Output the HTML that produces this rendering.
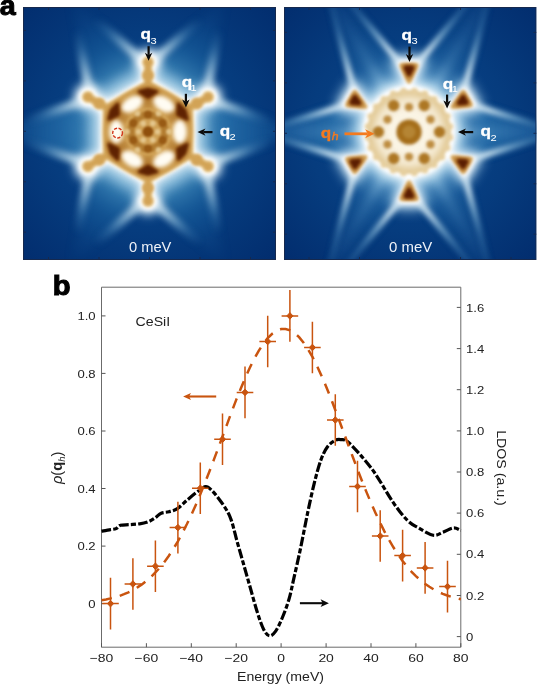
<!DOCTYPE html>
<html><head><meta charset="utf-8"><title>figure</title>
<style>html,body{margin:0;padding:0;background:#fff;}svg{display:block;font-family:"Liberation Sans",sans-serif;}</style>
</head><body>
<svg width="537" height="685" viewBox="0 0 537 685">
<rect width="537" height="685" fill="#fff"/>
<defs><filter id="b05" x="-30%" y="-30%" width="160%" height="160%" color-interpolation-filters="sRGB"><feGaussianBlur stdDeviation="0.5"/></filter><filter id="b08" x="-30%" y="-30%" width="160%" height="160%" color-interpolation-filters="sRGB"><feGaussianBlur stdDeviation="0.8"/></filter><filter id="b1" x="-30%" y="-30%" width="160%" height="160%" color-interpolation-filters="sRGB"><feGaussianBlur stdDeviation="1.0"/></filter><filter id="b13" x="-30%" y="-30%" width="160%" height="160%" color-interpolation-filters="sRGB"><feGaussianBlur stdDeviation="1.3"/></filter><filter id="b15" x="-30%" y="-30%" width="160%" height="160%" color-interpolation-filters="sRGB"><feGaussianBlur stdDeviation="1.5"/></filter><filter id="b2" x="-30%" y="-30%" width="160%" height="160%" color-interpolation-filters="sRGB"><feGaussianBlur stdDeviation="2.0"/></filter><filter id="b25" x="-30%" y="-30%" width="160%" height="160%" color-interpolation-filters="sRGB"><feGaussianBlur stdDeviation="2.5"/></filter><filter id="b3" x="-30%" y="-30%" width="160%" height="160%" color-interpolation-filters="sRGB"><feGaussianBlur stdDeviation="3.0"/></filter><filter id="b4" x="-30%" y="-30%" width="160%" height="160%" color-interpolation-filters="sRGB"><feGaussianBlur stdDeviation="4.0"/></filter><filter id="b5" x="-30%" y="-30%" width="160%" height="160%" color-interpolation-filters="sRGB"><feGaussianBlur stdDeviation="5.0"/></filter><filter id="b6" x="-30%" y="-30%" width="160%" height="160%" color-interpolation-filters="sRGB"><feGaussianBlur stdDeviation="6.0"/></filter><filter id="b8" x="-30%" y="-30%" width="160%" height="160%" color-interpolation-filters="sRGB"><feGaussianBlur stdDeviation="8.0"/></filter><clipPath id="cl"><rect x="23" y="7" width="253" height="253"/></clipPath><clipPath id="cr"><rect x="284" y="7" width="252.5" height="253"/></clipPath><radialGradient id="bgL" gradientUnits="userSpaceOnUse" cx="148.0" cy="131.7" r="180"><stop offset="0.000" stop-color="#0a488c" stop-opacity="1"/><stop offset="0.556" stop-color="#063c7e" stop-opacity="1"/><stop offset="1.000" stop-color="#022d6e" stop-opacity="1"/></radialGradient><radialGradient id="stL" gradientUnits="userSpaceOnUse" cx="148.0" cy="131.7" r="160"><stop offset="0.287" stop-color="#8cc0de" stop-opacity="1"/><stop offset="0.425" stop-color="#3a84b6" stop-opacity="0.8"/><stop offset="0.575" stop-color="#1f6aa6" stop-opacity="0.5"/><stop offset="0.781" stop-color="#1a62a2" stop-opacity="0.16"/><stop offset="0.981" stop-color="#1a60a0" stop-opacity="0"/></radialGradient><radialGradient id="skL" gradientUnits="userSpaceOnUse" cx="148.0" cy="131.7" r="160"><stop offset="0.388" stop-color="#eef6fa" stop-opacity="1"/><stop offset="0.500" stop-color="#c3deec" stop-opacity="0.9"/><stop offset="0.594" stop-color="#8fbedb" stop-opacity="0.62"/><stop offset="0.675" stop-color="#5f9dc8" stop-opacity="0.3"/><stop offset="0.775" stop-color="#4a90c0" stop-opacity="0"/></radialGradient><radialGradient id="hbL" gradientUnits="userSpaceOnUse" cx="148.0" cy="131.7" r="160"><stop offset="0.312" stop-color="#3a84bc" stop-opacity="0.0"/><stop offset="0.469" stop-color="#2f7ab5" stop-opacity="0.35"/><stop offset="0.625" stop-color="#2a72ae" stop-opacity="0.4"/><stop offset="0.781" stop-color="#2068a6" stop-opacity="0.25"/><stop offset="0.969" stop-color="#1a60a0" stop-opacity="0.0"/></radialGradient><radialGradient id="bgR" gradientUnits="userSpaceOnUse" cx="409.0" cy="132.0" r="180"><stop offset="0.000" stop-color="#0a488c" stop-opacity="1"/><stop offset="0.556" stop-color="#063c7e" stop-opacity="1"/><stop offset="1.000" stop-color="#022d6e" stop-opacity="1"/></radialGradient><radialGradient id="stR" gradientUnits="userSpaceOnUse" cx="409.0" cy="132.0" r="220"><stop offset="0.200" stop-color="#9fcde6" stop-opacity="1"/><stop offset="0.273" stop-color="#5a9ccb" stop-opacity="0.68"/><stop offset="0.364" stop-color="#2f7ab5" stop-opacity="0.42"/><stop offset="0.500" stop-color="#1f68a8" stop-opacity="0.25"/><stop offset="0.682" stop-color="#1a60a0" stop-opacity="0.12"/><stop offset="0.932" stop-color="#1a60a0" stop-opacity="0.02"/></radialGradient><radialGradient id="skR" gradientUnits="userSpaceOnUse" cx="409.0" cy="132.0" r="220"><stop offset="0.300" stop-color="#f4fafd" stop-opacity="1"/><stop offset="0.382" stop-color="#cfe6f2" stop-opacity="0.9"/><stop offset="0.477" stop-color="#96c5e0" stop-opacity="0.6"/><stop offset="0.573" stop-color="#64a2cc" stop-opacity="0.32"/><stop offset="0.682" stop-color="#4f94c4" stop-opacity="0.15"/><stop offset="0.886" stop-color="#4a90c0" stop-opacity="0.05"/></radialGradient><radialGradient id="axR" gradientUnits="userSpaceOnUse" cx="409.0" cy="132.0" r="220"><stop offset="0.200" stop-color="#b5d9ee" stop-opacity="0.6"/><stop offset="0.364" stop-color="#7db6da" stop-opacity="0.25"/><stop offset="0.591" stop-color="#5a9bd0" stop-opacity="0.1"/><stop offset="0.818" stop-color="#4a90c8" stop-opacity="0.0"/></radialGradient><radialGradient id="hbR" gradientUnits="userSpaceOnUse" cx="409.0" cy="132.0" r="220"><stop offset="0.227" stop-color="#3a84bc" stop-opacity="0.0"/><stop offset="0.341" stop-color="#2f7ab5" stop-opacity="0.5"/><stop offset="0.477" stop-color="#2a72ae" stop-opacity="0.5"/><stop offset="0.614" stop-color="#2068a6" stop-opacity="0.4"/><stop offset="0.795" stop-color="#1a60a0" stop-opacity="0.12"/></radialGradient><radialGradient id="dR" gradientUnits="userSpaceOnUse" cx="409.0" cy="132.0" r="45"><stop offset="0.000" stop-color="#f5ecd6" stop-opacity="1"/><stop offset="0.444" stop-color="#f9f2e2" stop-opacity="1"/><stop offset="0.711" stop-color="#f3e7cc" stop-opacity="1"/><stop offset="0.878" stop-color="#e2ca98" stop-opacity="1"/><stop offset="1.000" stop-color="#efdfbd" stop-opacity="1"/></radialGradient></defs><g clip-path="url(#cl)"><rect x="23" y="7" width="253" height="253" fill="url(#bgL)"/><polygon points="305.0,131.7 203.4,99.7 226.5,-4.3 148.0,67.7 69.5,-4.3 92.6,99.7 -9.0,131.7 92.6,163.7 69.5,267.7 148.0,195.7 226.5,267.7 203.4,163.7" fill="url(#stL)" filter="url(#b5)"/><g fill="url(#hbL)" filter="url(#b4)"><polygon points="203.4,163.7 305.0,131.7 203.4,99.7"/><polygon points="92.6,99.7 -9.0,131.7 92.6,163.7"/></g><path d="M205.2,98.7L305.0,131.7M205.2,98.7L226.5,-4.3M148.0,65.7L226.5,-4.3M148.0,65.7L69.5,-4.3M90.8,98.7L69.5,-4.3M90.8,98.7L-9.0,131.7M90.8,164.7L-9.0,131.7M90.8,164.7L69.5,267.7M148.0,197.7L69.5,267.7M148.0,197.7L226.5,267.7M205.2,164.7L226.5,267.7M205.2,164.7L305.0,131.7" stroke="url(#skL)" stroke-width="8.5" fill="none" filter="url(#b3)"/><g filter="url(#b6)" opacity="0.85" fill="#9cc8e2" stroke="#9cc8e2" stroke-width="36" stroke-linejoin="round" stroke-linecap="round"><polygon points="188.3,108.4 148.0,85.2 107.7,108.4 107.7,154.9 148.0,178.2 188.3,155.0" stroke-linejoin="round"/><path d="M187.0,109.2L207.8,97.2M148.0,86.7L148.0,62.7M109.0,109.2L88.2,97.2M109.0,154.2L88.2,166.2M148.0,176.7L148.0,200.7M187.0,154.2L207.8,166.2" stroke-width="28"/></g><g filter="url(#b4)" opacity="0.9" fill="#fff" stroke="#fff" stroke-width="17" stroke-linejoin="round" stroke-linecap="round"><polygon points="188.3,108.4 148.0,85.2 107.7,108.4 107.7,154.9 148.0,178.2 188.3,155.0" stroke-linejoin="round"/><path d="M187.0,109.2L207.8,97.2M148.0,86.7L148.0,62.7M109.0,109.2L88.2,97.2M109.0,154.2L88.2,166.2M148.0,176.7L148.0,200.7M187.0,154.2L207.8,166.2" stroke-width="17"/><circle cx="208.1" cy="97.0" r="5.2" stroke-width="13"/><circle cx="148.0" cy="62.3" r="5.2" stroke-width="13"/><circle cx="87.9" cy="97.0" r="5.2" stroke-width="13"/><circle cx="87.9" cy="166.4" r="5.2" stroke-width="13"/><circle cx="148.0" cy="201.1" r="5.2" stroke-width="13"/><circle cx="208.1" cy="166.4" r="5.2" stroke-width="13"/></g><g filter="url(#b2)" fill="#fff" stroke="#fff" stroke-width="13" stroke-linejoin="round" stroke-linecap="round"><polygon points="188.3,108.4 148.0,85.2 107.7,108.4 107.7,154.9 148.0,178.2 188.3,155.0" stroke-linejoin="round"/><path d="M187.0,109.2L207.8,97.2M148.0,86.7L148.0,62.7M109.0,109.2L88.2,97.2M109.0,154.2L88.2,166.2M148.0,176.7L148.0,200.7M187.0,154.2L207.8,166.2" stroke-width="12"/><circle cx="208.1" cy="97.0" r="5.2" stroke-width="7"/><circle cx="148.0" cy="62.3" r="5.2" stroke-width="7"/><circle cx="87.9" cy="97.0" r="5.2" stroke-width="7"/><circle cx="87.9" cy="166.4" r="5.2" stroke-width="7"/><circle cx="148.0" cy="201.1" r="5.2" stroke-width="7"/><circle cx="208.1" cy="166.4" r="5.2" stroke-width="7"/></g><g filter="url(#b15)" fill="#f3e3bf" stroke="#f3e3bf" stroke-width="11" stroke-linejoin="round" stroke-linecap="round"><polygon points="188.3,108.4 148.0,85.2 107.7,108.4 107.7,154.9 148.0,178.2 188.3,155.0" stroke-linejoin="round"/><path d="M187.0,109.2L207.8,97.2M148.0,86.7L148.0,62.7M109.0,109.2L88.2,97.2M109.0,154.2L88.2,166.2M148.0,176.7L148.0,200.7M187.0,154.2L207.8,166.2" stroke-width="9"/><circle cx="208.1" cy="97.0" r="5.2" stroke-width="2.5"/><circle cx="148.0" cy="62.3" r="5.2" stroke-width="2.5"/><circle cx="87.9" cy="97.0" r="5.2" stroke-width="2.5"/><circle cx="87.9" cy="166.4" r="5.2" stroke-width="2.5"/><circle cx="148.0" cy="201.1" r="5.2" stroke-width="2.5"/><circle cx="208.1" cy="166.4" r="5.2" stroke-width="2.5"/></g><g filter="url(#b15)" fill="#d2a356" stroke="#d2a356" stroke-width="8" stroke-linejoin="round" stroke-linecap="round"><polygon points="188.3,108.4 148.0,85.2 107.7,108.4 107.7,154.9 148.0,178.2 188.3,155.0" stroke-linejoin="round"/><path d="M187.0,109.2L207.8,97.2M148.0,86.7L148.0,62.7M109.0,109.2L88.2,97.2M109.0,154.2L88.2,166.2M148.0,176.7L148.0,200.7M187.0,154.2L207.8,166.2" stroke-width="6.6"/><circle cx="208.1" cy="97.0" r="5.0" stroke="none"/><circle cx="148.0" cy="62.3" r="5.0" stroke="none"/><circle cx="87.9" cy="97.0" r="5.0" stroke="none"/><circle cx="87.9" cy="166.4" r="5.0" stroke="none"/><circle cx="148.0" cy="201.1" r="5.0" stroke="none"/><circle cx="208.1" cy="166.4" r="5.0" stroke="none"/><circle cx="196.8" cy="103.5" r="6.1" stroke="none"/><circle cx="148.0" cy="75.4" r="6.1" stroke="none"/><circle cx="99.2" cy="103.5" r="6.1" stroke="none"/><circle cx="99.2" cy="159.8" r="6.1" stroke="none"/><circle cx="148.0" cy="188.0" r="6.1" stroke="none"/><circle cx="196.8" cy="159.9" r="6.1" stroke="none"/></g><g filter="url(#b25)"><circle cx="148.0" cy="131.7" r="40" fill="none" stroke="#cb9a4c" stroke-width="7"/><circle cx="174.8" cy="116.2" r="7.5" fill="#b9843a"/><ellipse cx="181.3" cy="112.4" rx="6" ry="12" transform="rotate(-30 181.3 112.4)" fill="#a9691f"/><circle cx="148.0" cy="100.7" r="7.5" fill="#b9843a"/><ellipse cx="148.0" cy="93.2" rx="6" ry="12" transform="rotate(-90 148.0 93.2)" fill="#a9691f"/><circle cx="121.2" cy="116.2" r="7.5" fill="#b9843a"/><ellipse cx="114.7" cy="112.4" rx="6" ry="12" transform="rotate(-150 114.7 112.4)" fill="#a9691f"/><circle cx="121.2" cy="147.2" r="7.5" fill="#b9843a"/><ellipse cx="114.7" cy="150.9" rx="6" ry="12" transform="rotate(-210 114.7 150.9)" fill="#a9691f"/><circle cx="148.0" cy="162.7" r="7.5" fill="#b9843a"/><ellipse cx="148.0" cy="170.2" rx="6" ry="12" transform="rotate(-270 148.0 170.2)" fill="#a9691f"/><circle cx="174.8" cy="147.2" r="7.5" fill="#b9843a"/><ellipse cx="181.3" cy="151.0" rx="6" ry="12" transform="rotate(-330 181.3 151.0)" fill="#a9691f"/></g><g filter="url(#b2)"><ellipse cx="179.8" cy="131.7" rx="6.9" ry="11.6" transform="rotate(0 179.8 131.7)" fill="#fffcf3"/><ellipse cx="163.9" cy="104.2" rx="6.9" ry="11.6" transform="rotate(-60 163.9 104.2)" fill="#fffcf3"/><ellipse cx="132.1" cy="104.2" rx="6.9" ry="11.6" transform="rotate(-120 132.1 104.2)" fill="#fffcf3"/><ellipse cx="116.2" cy="131.7" rx="6.9" ry="11.6" transform="rotate(-180 116.2 131.7)" fill="#fffcf3"/><ellipse cx="132.1" cy="159.2" rx="6.9" ry="11.6" transform="rotate(-240 132.1 159.2)" fill="#fffcf3"/><ellipse cx="163.9" cy="159.2" rx="6.9" ry="11.6" transform="rotate(-300 163.9 159.2)" fill="#fffcf3"/></g><g filter="url(#b15)"><polygon points="187.3,119.3 184.9,110.4 178.4,103.9 177.6,114.6" fill="#5e2202" stroke="#5e2202" stroke-width="2.5" stroke-linejoin="round"/><polygon points="156.9,91.5 148.0,89.1 139.1,91.5 148.0,97.5" fill="#5e2202" stroke="#5e2202" stroke-width="2.5" stroke-linejoin="round"/><polygon points="117.6,103.9 111.1,110.4 108.7,119.3 118.4,114.6" fill="#5e2202" stroke="#5e2202" stroke-width="2.5" stroke-linejoin="round"/><polygon points="108.7,144.1 111.1,153.0 117.6,159.5 118.4,148.8" fill="#5e2202" stroke="#5e2202" stroke-width="2.5" stroke-linejoin="round"/><polygon points="139.1,171.9 148.0,174.3 156.9,171.9 148.0,165.9" fill="#5e2202" stroke="#5e2202" stroke-width="2.5" stroke-linejoin="round"/><polygon points="178.4,159.5 184.9,153.0 187.3,144.1 177.6,148.8" fill="#5e2202" stroke="#5e2202" stroke-width="2.5" stroke-linejoin="round"/></g><g filter="url(#b13)"><circle cx="148.0" cy="131.7" r="23" fill="#cfa156"/><circle cx="148.0" cy="131.7" r="17" fill="none" stroke="#b27c30" stroke-width="7"/><circle cx="162.7" cy="123.2" r="4.1" fill="#985a14"/><circle cx="169.0" cy="131.7" r="3" fill="#e2c48a"/><circle cx="157.6" cy="131.7" r="2.8" fill="#e4c68c"/><circle cx="148.0" cy="114.7" r="4.1" fill="#985a14"/><circle cx="158.5" cy="113.5" r="3" fill="#e2c48a"/><circle cx="152.8" cy="123.4" r="2.8" fill="#e4c68c"/><circle cx="133.3" cy="123.2" r="4.1" fill="#985a14"/><circle cx="137.5" cy="113.5" r="3" fill="#e2c48a"/><circle cx="143.2" cy="123.4" r="2.8" fill="#e4c68c"/><circle cx="133.3" cy="140.2" r="4.1" fill="#985a14"/><circle cx="127.0" cy="131.7" r="3" fill="#e2c48a"/><circle cx="138.4" cy="131.7" r="2.8" fill="#e4c68c"/><circle cx="148.0" cy="148.7" r="4.1" fill="#985a14"/><circle cx="137.5" cy="149.9" r="3" fill="#e2c48a"/><circle cx="143.2" cy="140.0" r="2.8" fill="#e4c68c"/><circle cx="162.7" cy="140.2" r="4.1" fill="#985a14"/><circle cx="158.5" cy="149.9" r="3" fill="#e2c48a"/><circle cx="152.8" cy="140.0" r="2.8" fill="#e4c68c"/><circle cx="148.0" cy="131.7" r="5.4" fill="#8f4f0c"/></g><circle cx="117.6" cy="133.1" r="4.9" fill="none" stroke="#d2361a" stroke-width="1.4" stroke-dasharray="3.2 1.5"/><path d="M48.5,7v3M48.5,260v-3M23,30.4h3M276,30.4h-3M99.0,7v3M99.0,260v-3M23,80.9h3M276,80.9h-3M149.5,7v3M149.5,260v-3M23,131.3h3M276,131.3h-3M200.0,7v3M200.0,260v-3M23,181.8h3M276,181.8h-3M250.5,7v3M250.5,260v-3M23,232.2h3M276,232.2h-3" stroke="#16294e" stroke-width="1" fill="none"/><rect x="23.5" y="7.5" width="252" height="252" fill="none" stroke="#16294e" stroke-width="1"/></g><g clip-path="url(#cr)"><rect x="284" y="7" width="252.5" height="253" fill="url(#bgR)"/><polygon points="560.5,132.0 474.0,105.6 464.4,88.9 496.9,-32.5 418.6,62.5 399.4,62.5 321.1,-32.5 353.6,88.9 344.0,105.6 257.5,132.0 344.0,158.4 353.6,175.1 321.1,296.5 399.4,201.5 418.6,201.5 496.9,296.5 464.4,175.1 474.0,158.4" fill="url(#stR)" filter="url(#b5)"/><g fill="url(#hbR)" filter="url(#b4)"><polygon points="474.0,158.4 560.5,132.0 474.0,105.6"/><polygon points="344.0,105.6 257.5,132.0 344.0,158.4"/></g><path d="M449.0,132.0L589.0,132.0M429.0,97.4L499.0,-23.9M389.0,97.4L319.0,-23.9M369.0,132.0L229.0,132.0M389.0,166.6L319.0,287.9M429.0,166.6L499.0,287.9" stroke="url(#axR)" stroke-width="9" fill="none" filter="url(#b4)"/><path d="M474.0,105.6L665.2,164.0M464.4,88.9L516.2,-104.2M418.6,62.5L545.8,-91.8M399.4,62.5L272.2,-91.8M353.6,88.9L301.8,-104.2M344.0,105.6L152.8,164.0M344.0,158.4L152.8,100.0M353.6,175.1L301.8,368.2M399.4,201.5L272.2,355.8M418.6,201.5L545.8,355.8M464.4,175.1L516.2,368.2M474.0,158.4L665.2,100.0" stroke="url(#skR)" stroke-width="6" fill="none" filter="url(#b25)"/><g filter="url(#b6)" opacity="0.8" fill="#a9d1e9" stroke="#a9d1e9" stroke-width="18" stroke-linejoin="round"><circle cx="409.0" cy="132.0" r="44.5"/><polygon points="450.1,108.2 474.0,105.6 464.4,88.9"/><polygon points="409.0,84.5 418.6,62.5 399.4,62.5"/><polygon points="367.9,108.2 353.6,88.9 344.0,105.6"/><polygon points="367.9,155.8 344.0,158.4 353.6,175.1"/><polygon points="409.0,179.5 399.4,201.5 418.6,201.5"/><polygon points="450.1,155.8 464.4,175.1 474.0,158.4"/></g><g filter="url(#b4)" fill="#fff" stroke="#fff" stroke-width="7" stroke-linejoin="round"><circle cx="409.0" cy="132.0" r="44"/><polygon points="450.1,108.2 474.0,105.6 464.4,88.9"/><polygon points="409.0,84.5 418.6,62.5 399.4,62.5"/><polygon points="367.9,108.2 353.6,88.9 344.0,105.6"/><polygon points="367.9,155.8 344.0,158.4 353.6,175.1"/><polygon points="409.0,179.5 399.4,201.5 418.6,201.5"/><polygon points="450.1,155.8 464.4,175.1 474.0,158.4"/></g><g filter="url(#b2)" fill="#fff" stroke="#fff" stroke-width="4" stroke-linejoin="round"><circle cx="409.0" cy="132.0" r="43"/><polygon points="450.1,108.2 474.0,105.6 464.4,88.9"/><polygon points="409.0,84.5 418.6,62.5 399.4,62.5"/><polygon points="367.9,108.2 353.6,88.9 344.0,105.6"/><polygon points="367.9,155.8 344.0,158.4 353.6,175.1"/><polygon points="409.0,179.5 399.4,201.5 418.6,201.5"/><polygon points="450.1,155.8 464.4,175.1 474.0,158.4"/></g><g filter="url(#b15)" fill="#e6cf9f"><circle cx="409.0" cy="132.0" r="42.3" fill="url(#dR)"/><circle cx="449.9" cy="126.6" r="3.3"/><circle cx="447.2" cy="116.2" r="3.3"/><circle cx="441.8" cy="106.9" r="3.3"/><circle cx="434.1" cy="99.2" r="3.3"/><circle cx="424.8" cy="93.8" r="3.3"/><circle cx="414.4" cy="91.1" r="3.3"/><circle cx="403.6" cy="91.1" r="3.3"/><circle cx="393.2" cy="93.8" r="3.3"/><circle cx="383.9" cy="99.2" r="3.3"/><circle cx="376.2" cy="106.9" r="3.3"/><circle cx="370.8" cy="116.2" r="3.3"/><circle cx="368.1" cy="126.6" r="3.3"/><circle cx="368.1" cy="137.4" r="3.3"/><circle cx="370.8" cy="147.8" r="3.3"/><circle cx="376.2" cy="157.1" r="3.3"/><circle cx="383.9" cy="164.8" r="3.3"/><circle cx="393.2" cy="170.2" r="3.3"/><circle cx="403.6" cy="172.9" r="3.3"/><circle cx="414.4" cy="172.9" r="3.3"/><circle cx="424.8" cy="170.2" r="3.3"/><circle cx="434.1" cy="164.8" r="3.3"/><circle cx="441.8" cy="157.1" r="3.3"/><circle cx="447.2" cy="147.8" r="3.3"/><circle cx="449.9" cy="137.4" r="3.3"/></g><g filter="url(#b15)" fill="#d6aa60" stroke="#d6aa60" stroke-width="4.5" stroke-linejoin="round"><polygon points="452.7,106.8 470.6,105.0 463.2,92.2"/><polygon points="409.0,81.5 416.4,65.2 401.6,65.2"/><polygon points="365.3,106.8 354.8,92.2 347.4,105.0"/><polygon points="365.3,157.2 347.4,159.0 354.8,171.8"/><polygon points="409.0,182.5 401.6,198.8 416.4,198.8"/><polygon points="452.7,157.3 463.2,171.8 470.6,159.0"/></g><g filter="url(#b2)" fill="#a35f1a" stroke="#a35f1a" stroke-width="4" stroke-linejoin="round"><polygon points="456.2,104.8 468.2,103.6 463.2,94.9"/><polygon points="409.0,77.5 414.0,66.5 404.0,66.5"/><polygon points="361.8,104.8 354.8,94.9 349.8,103.6"/><polygon points="361.8,159.2 349.8,160.4 354.8,169.1"/><polygon points="409.0,186.5 404.0,197.5 414.0,197.5"/><polygon points="456.2,159.3 463.2,169.1 468.2,160.4"/></g><g filter="url(#b15)" fill="#5a1d02" stroke="#5a1d02" stroke-width="4" stroke-linejoin="round"><polygon points="459.2,103.0 466.1,102.5 463.1,97.3"/><polygon points="409.0,74.0 412.0,67.8 406.0,67.8"/><polygon points="358.8,103.0 354.9,97.3 351.9,102.5"/><polygon points="358.8,161.0 351.9,161.5 354.9,166.7"/><polygon points="409.0,190.0 406.0,196.2 412.0,196.2"/><polygon points="459.2,161.0 463.1,166.7 466.1,161.5"/></g><g filter="url(#b15)"><circle cx="409.0" cy="132.0" r="17.5" fill="none" stroke="#faf4e4" stroke-width="6"/><circle cx="409.0" cy="132.0" r="12.6" fill="#a56e1a"/><circle cx="409.0" cy="132.0" r="6.5" fill="#b58534"/><circle cx="439.6" cy="132.0" r="5.7" fill="#ad7724"/><circle cx="430.5" cy="119.6" r="4.1" fill="#bd8c40"/><circle cx="424.3" cy="105.5" r="5.7" fill="#ad7724"/><circle cx="409.0" cy="107.2" r="4.1" fill="#bd8c40"/><circle cx="393.7" cy="105.5" r="5.7" fill="#ad7724"/><circle cx="387.5" cy="119.6" r="4.1" fill="#bd8c40"/><circle cx="378.4" cy="132.0" r="5.7" fill="#ad7724"/><circle cx="387.5" cy="144.4" r="4.1" fill="#bd8c40"/><circle cx="393.7" cy="158.5" r="5.7" fill="#ad7724"/><circle cx="409.0" cy="156.8" r="4.1" fill="#bd8c40"/><circle cx="424.3" cy="158.5" r="5.7" fill="#ad7724"/><circle cx="430.5" cy="144.4" r="4.1" fill="#bd8c40"/></g><path d="M309.0,7v3M309.0,260v-3M284,32.4h3M536.5,32.4h-3M359.5,7v3M359.5,260v-3M284,82.9h3M536.5,82.9h-3M410.0,7v3M410.0,260v-3M284,133.3h3M536.5,133.3h-3M460.5,7v3M460.5,260v-3M284,183.8h3M536.5,183.8h-3M511.0,7v3M511.0,260v-3M284,234.2h3M536.5,234.2h-3" stroke="#16294e" stroke-width="1" fill="none"/><rect x="284.5" y="7.5" width="251.5" height="252" fill="none" stroke="#16294e" stroke-width="1"/></g><text transform="translate(140.6,39.4) scale(1.2,1)" font-size="14.3" font-weight="bold" fill="#fff" stroke="#fff" stroke-width="0.3">q</text><text transform="translate(150.6,43.6) scale(1.18,1)" font-size="9.4" fill="#fff">3</text><path d="M148.6,46.2L148.6,54.9" stroke="#0a0a0a" stroke-width="2.2" fill="none"/><path d="M148.6,60.7L144.9,52.7L148.6,54.9L152.3,52.7Z" fill="#0a0a0a"/><text transform="translate(181.8,87.3) scale(1.2,1)" font-size="14.3" font-weight="bold" fill="#fff" stroke="#fff" stroke-width="0.3">q</text><text transform="translate(190.6,91.0) scale(1.18,1)" font-size="9.4" fill="#fff">1</text><path d="M185.9,93.8L185.9,101.8" stroke="#0a0a0a" stroke-width="2.2" fill="none"/><path d="M185.9,107.6L182.2,99.6L185.9,101.8L189.6,99.6Z" fill="#0a0a0a"/><text transform="translate(219.8,135.7) scale(1.2,1)" font-size="14.3" font-weight="bold" fill="#fff" stroke="#fff" stroke-width="0.3">q</text><text transform="translate(229.6,140.2) scale(1.18,1)" font-size="9.4" fill="#fff">2</text><path d="M212.5,132.1L203.3,132.1" stroke="#0a0a0a" stroke-width="2.2" fill="none"/><path d="M197.5,132.1L205.5,128.4L203.3,132.1L205.5,135.8Z" fill="#0a0a0a"/><text x="129.0" y="251.8" font-size="14.5" fill="#eef2f8" textLength="42.4" lengthAdjust="spacingAndGlyphs">0 meV</text><text transform="translate(401.6,40.1) scale(1.2,1)" font-size="14.3" font-weight="bold" fill="#fff" stroke="#fff" stroke-width="0.3">q</text><text transform="translate(411.6,44.2) scale(1.18,1)" font-size="9.4" fill="#fff">3</text><path d="M409.5,46.6L409.5,56.2" stroke="#0a0a0a" stroke-width="2.2" fill="none"/><path d="M409.5,62.0L405.8,54.0L409.5,56.2L413.2,54.0Z" fill="#0a0a0a"/><text transform="translate(442.7,88.5) scale(1.2,1)" font-size="14.3" font-weight="bold" fill="#fff" stroke="#fff" stroke-width="0.3">q</text><text transform="translate(451.7,92.2) scale(1.18,1)" font-size="9.4" fill="#fff">1</text><path d="M447.1,94.6L447.1,102.6" stroke="#0a0a0a" stroke-width="2.2" fill="none"/><path d="M447.1,108.4L443.4,100.4L447.1,102.6L450.8,100.4Z" fill="#0a0a0a"/><text transform="translate(480.5,136.2) scale(1.2,1)" font-size="14.3" font-weight="bold" fill="#fff" stroke="#fff" stroke-width="0.3">q</text><text transform="translate(490.4,140.8) scale(1.18,1)" font-size="9.4" fill="#fff">2</text><path d="M473.2,132.1L463.8,132.1" stroke="#0a0a0a" stroke-width="2.2" fill="none"/><path d="M458.0,132.1L466.0,128.4L463.8,132.1L466.0,135.8Z" fill="#0a0a0a"/><text transform="translate(320.8,137.6) scale(1.2,1)" font-size="14.3" font-weight="bold" fill="#f47a1f" stroke="#f47a1f" stroke-width="0.3">q</text><text transform="translate(331.8,140.4) scale(1.18,1)" font-size="10.4" fill="#f47a1f" font-style="italic" stroke="#f47a1f" stroke-width="0.35">h</text><path d="M344.5,133.8L367.8,133.8" stroke="#f47a1f" stroke-width="2.8" fill="none"/><path d="M374.5,133.8L365.2,138.3L367.8,133.8L365.2,129.3Z" fill="#f47a1f"/><text x="389.0" y="251.8" font-size="14.5" fill="#eef2f8" textLength="43.2" lengthAdjust="spacingAndGlyphs">0 meV</text>
<text x="0" y="14.5" font-size="27" font-weight="bold" fill="#000" stroke="#000" stroke-width="1.0" transform="translate(-0.2,0) scale(1.06,1)">a</text>
<text x="0" y="295.3" font-size="27.5" font-weight="bold" fill="#000" stroke="#000" stroke-width="1.1" transform="translate(52.8,0) scale(1.06,1)">b</text>
<path d="M101.5,287.2H460.8V647.2H101.5Z" fill="none" stroke="#6b6b6b" stroke-width="1"/>
<path d="M101.5,647.2v-4M146.4,647.2v-4M191.3,647.2v-4M236.2,647.2v-4M281.1,647.2v-4M326.1,647.2v-4M371.0,647.2v-4M415.9,647.2v-4M460.8,647.2v-4M101.5,603.6h4M101.5,546.1h4M101.5,488.5h4M101.5,431.0h4M101.5,373.4h4M101.5,315.9h4M460.8,636.6h-4M460.8,595.5h-4M460.8,554.3h-4M460.8,513.1h-4M460.8,472.0h-4M460.8,430.9h-4M460.8,389.7h-4M460.8,348.6h-4M460.8,307.4h-4" stroke="#555" stroke-width="1" fill="none"/>
<g font-size="11.6" fill="#222"><text transform="translate(101.5,661.6) scale(1.2,1)" text-anchor="middle">−80</text><text transform="translate(146.4,661.6) scale(1.2,1)" text-anchor="middle">−60</text><text transform="translate(191.3,661.6) scale(1.2,1)" text-anchor="middle">−40</text><text transform="translate(236.2,661.6) scale(1.2,1)" text-anchor="middle">−20</text><text transform="translate(281.1,661.6) scale(1.2,1)" text-anchor="middle">0</text><text transform="translate(326.1,661.6) scale(1.2,1)" text-anchor="middle">20</text><text transform="translate(371.0,661.6) scale(1.2,1)" text-anchor="middle">40</text><text transform="translate(415.9,661.6) scale(1.2,1)" text-anchor="middle">60</text><text transform="translate(460.8,661.6) scale(1.2,1)" text-anchor="middle">80</text><text transform="translate(95.6,607.7) scale(1.13,1)" text-anchor="end">0</text><text transform="translate(95.6,550.2) scale(1.13,1)" text-anchor="end">0.2</text><text transform="translate(95.6,492.6) scale(1.13,1)" text-anchor="end">0.4</text><text transform="translate(95.6,435.1) scale(1.13,1)" text-anchor="end">0.6</text><text transform="translate(95.6,377.5) scale(1.13,1)" text-anchor="end">0.8</text><text transform="translate(95.6,320.0) scale(1.13,1)" text-anchor="end">1.0</text><text transform="translate(466.0,640.7) scale(1.13,1)">0</text><text transform="translate(466.0,599.6) scale(1.13,1)">0.2</text><text transform="translate(466.0,558.4) scale(1.13,1)">0.4</text><text transform="translate(466.0,517.2) scale(1.13,1)">0.6</text><text transform="translate(466.0,476.1) scale(1.13,1)">0.8</text><text transform="translate(466.0,435.0) scale(1.13,1)">1.0</text><text transform="translate(466.0,393.8) scale(1.13,1)">1.2</text><text transform="translate(466.0,352.7) scale(1.13,1)">1.4</text><text transform="translate(466.0,311.5) scale(1.13,1)">1.6</text></g>
<text x="237" y="681.3" font-size="12.6" fill="#222" textLength="87" lengthAdjust="spacingAndGlyphs">Energy (meV)</text>
<text transform="translate(497.4,430.2) rotate(90)" font-size="12.4" fill="#222" textLength="75.6" lengthAdjust="spacingAndGlyphs">LDOS (a.u.)</text>
<text transform="translate(62.2,484) rotate(-90)" font-size="14.6" fill="#222"><tspan font-style="italic">ρ</tspan>(<tspan font-weight="bold">q</tspan><tspan font-size="9.5" dy="2.6" font-style="italic">h</tspan><tspan dy="-2.6">)</tspan></text>
<text x="135.6" y="326.1" font-size="13" fill="#222" textLength="34.6" lengthAdjust="spacingAndGlyphs">CeSiI</text>
<path d="M101.5,531.1C103.0,530.8 108.1,530.0 110.5,529.6C112.9,529.2 114.5,529.3 116.1,528.6C117.7,527.9 118.2,525.9 120.4,525.3C122.5,524.6 125.9,524.9 129.1,524.7C132.3,524.4 136.5,524.3 139.7,523.8C142.9,523.4 145.6,522.8 148.2,521.8C150.8,520.8 153.2,519.1 155.4,517.7C157.6,516.2 159.0,514.1 161.2,513.2C163.5,512.2 166.2,512.5 168.9,511.7C171.6,511.0 174.3,510.6 177.4,508.6C180.5,506.6 183.7,502.9 187.5,499.8C191.3,496.6 196.9,491.8 200.3,489.7C203.7,487.6 204.6,485.4 207.9,487.2C211.2,489.0 216.4,495.5 220.1,500.5C223.8,505.5 227.4,510.6 230.2,517.3C233.0,524.0 234.7,533.0 236.9,540.8C239.1,548.6 241.4,556.5 243.6,564.3C245.8,572.1 248.1,580.0 250.3,587.8C252.5,595.6 254.8,604.3 257.0,611.3C259.2,618.3 261.7,625.6 263.8,629.7C265.9,633.8 267.6,635.5 269.5,635.8C271.4,636.1 273.4,634.4 275.5,631.4C277.6,628.4 280.0,623.3 282.2,618.0C284.4,612.7 286.9,606.2 288.9,599.5C290.9,592.8 292.0,586.4 294.0,577.7C296.0,569.0 298.5,558.1 300.7,547.5C302.9,536.9 305.2,524.6 307.4,514.0C309.6,503.4 311.9,492.8 314.1,483.8C316.3,474.9 318.6,466.5 320.8,460.3C323.0,454.1 325.1,450.1 327.5,446.8C329.9,443.5 332.9,441.5 335.2,440.3C337.4,439.1 339.0,439.4 341.0,439.6C343.0,439.8 344.2,439.0 347.4,441.5C350.6,444.0 355.6,449.5 360.2,454.7C364.8,460.0 369.3,465.1 374.8,473.0C380.3,481.0 387.5,494.3 393.0,502.2C398.4,510.2 403.3,516.3 407.6,520.6C411.8,524.8 414.3,525.5 418.6,528.0C422.8,530.4 429.1,534.4 433.2,535.2C437.2,535.9 439.5,533.5 442.8,532.3C446.2,531.1 450.4,528.3 453.4,528.0C456.4,527.7 459.6,530.0 460.8,530.4" fill="none" stroke="#000" stroke-width="3.2" stroke-dasharray="9.6 2.2 5 2.2"/>
<path d="M101.5,600.2L106.0,599.4L110.5,598.4L115.0,597.2L119.5,595.9L124.0,594.2L128.4,592.3L132.9,590.0L137.4,587.4L141.9,584.4L146.4,580.9L150.9,577.0L155.4,572.5L159.9,567.5L164.4,561.9L168.9,555.7L173.4,548.8L177.9,541.3L182.3,533.1L186.8,524.3L191.3,514.9L195.8,504.9L200.3,494.3L204.8,483.2L209.3,471.7L213.8,459.9L218.3,447.9L222.8,435.7L227.3,423.6L231.7,411.6L236.2,399.9L240.7,388.7L245.2,378.0L249.7,368.0L254.2,358.9L258.7,350.9L263.2,343.9L267.7,338.2L272.2,333.8L276.7,330.7L281.1,329.1L285.6,329.0L290.1,330.3L294.6,333.0L299.1,337.2L303.6,342.7L308.1,349.4L312.6,357.2L317.1,366.1L321.6,375.9L326.1,386.5L330.6,397.6L335.0,409.2L339.5,421.2L344.0,433.3L348.5,445.5L353.0,457.5L357.5,469.4L362.0,481.0L366.5,492.1L371.0,502.8L375.5,512.9L380.0,522.5L384.4,531.4L388.9,539.7L393.4,547.3L397.9,554.3L402.4,560.7L406.9,566.4L411.4,571.6L415.9,576.1L420.4,580.2L424.9,583.7L429.4,586.8L433.9,589.5L438.3,591.9L442.8,593.8L447.3,595.5L451.8,597.0L456.3,598.2L460.8,599.2" fill="none" stroke="#c9540f" stroke-width="2.5" stroke-dasharray="10.5 8.3"/>
<path d="M110.5,577.8v51.6M102.2,603.6H118.8M132.9,558.2v51.6M124.6,584.0H141.2M155.4,540.4v51.6M147.1,566.2H163.7M177.9,501.8v51.6M169.6,527.6H186.2M200.3,462.4v51.6M192.0,488.2H208.6M222.5,413.5v51.6M214.2,439.3H230.8M245.0,366.6v51.6M236.7,392.4H253.3M267.7,315.7v51.6M259.4,341.5H276.0M289.9,290.1v51.6M281.6,315.9H298.2M312.4,321.7v51.6M304.1,347.5H320.7M335.3,394.2v51.6M327.0,420.0H343.6M357.5,460.7v51.6M349.2,486.5H365.8M380.2,510.2v51.6M371.9,536.0H388.5M402.6,529.8v51.6M394.3,555.6H410.9M425.1,542.1v51.6M416.8,567.9H433.4M447.5,560.8v51.6M439.2,586.6H455.8" stroke="#c9540f" stroke-width="1.5" fill="none"/>
<g fill="#c9540f" stroke="#c9540f" stroke-width="1" stroke-linejoin="round"><path d="M107.4,603.6L110.5,600.3L113.6,603.6L110.5,606.9Z"/><path d="M129.8,584.0L132.9,580.7L136.0,584.0L132.9,587.3Z"/><path d="M152.3,566.2L155.4,562.9L158.5,566.2L155.4,569.5Z"/><path d="M174.8,527.6L177.9,524.3L181.0,527.6L177.9,530.9Z"/><path d="M197.2,488.2L200.3,484.9L203.4,488.2L200.3,491.5Z"/><path d="M219.4,439.3L222.5,436.0L225.6,439.3L222.5,442.6Z"/><path d="M241.9,392.4L245.0,389.1L248.1,392.4L245.0,395.7Z"/><path d="M264.6,341.5L267.7,338.2L270.8,341.5L267.7,344.8Z"/><path d="M286.8,315.9L289.9,312.6L293.0,315.9L289.9,319.2Z"/><path d="M309.3,347.5L312.4,344.2L315.5,347.5L312.4,350.8Z"/><path d="M332.2,420.0L335.3,416.7L338.4,420.0L335.3,423.3Z"/><path d="M354.4,486.5L357.5,483.2L360.6,486.5L357.5,489.8Z"/><path d="M377.1,536.0L380.2,532.7L383.3,536.0L380.2,539.3Z"/><path d="M399.5,555.6L402.6,552.3L405.7,555.6L402.6,558.9Z"/><path d="M422.0,567.9L425.1,564.6L428.2,567.9L425.1,571.2Z"/><path d="M444.4,586.6L447.5,583.3L450.6,586.6L447.5,589.9Z"/></g>
<path d="M216.2,396.5H188" stroke="#c9540f" stroke-width="2.1"/><path d="M183.1,396.5l7.9,-3.5l-1.9,3.5l1.9,3.5z" fill="#c9540f"/>
<path d="M299.9,603.2H324" stroke="#0a0a0a" stroke-width="2.1"/><path d="M328.9,603.2l-8.3,-3.9l2,3.9l-2,3.9z" fill="#0a0a0a"/>
</svg>
</body></html>
